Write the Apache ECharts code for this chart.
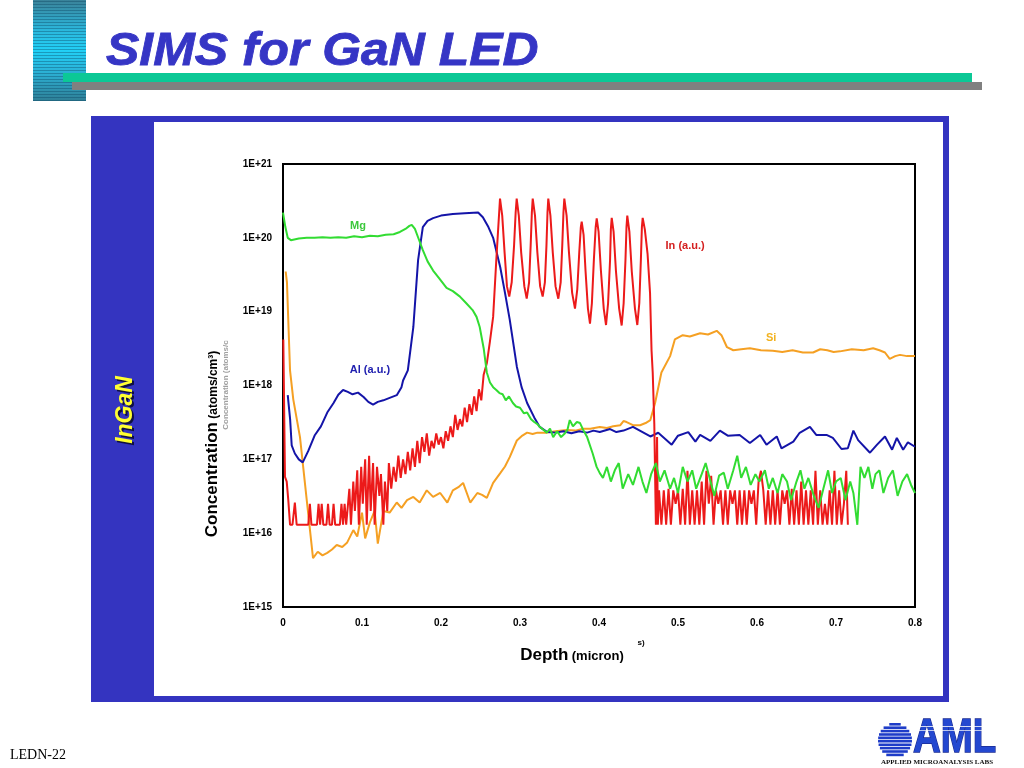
<!DOCTYPE html>
<html>
<head>
<meta charset="utf-8">
<title>SIMS for GaN LED</title>
<script src="https://cdn.jsdelivr.net/npm/echarts@6/dist/echarts.min.js"></script>
<style>
html, body { margin: 0; padding: 0; background: #fff; }
#main { width: 1024px; height: 768px; }
</style>
</head>
<body>
<div id="main"></div>
<script>
// tick labels
var xTickLabels = ['0', '0.1', '0.2', '0.3', '0.4', '0.5', '0.6', '0.7', '0.8'];
var yTickLabels = ['1E+15', '1E+16', '1E+17', '1E+18', '1E+19', '1E+20', '1E+21'];

// Mg (atoms/cm3)
var mgDepth = [0, 0.003, 0.006, 0.010, 0.02, 0.03, 0.04, 0.05, 0.06, 0.07, 0.08, 0.09, 0.10, 0.11, 0.12, 0.13, 0.14, 0.148, 0.155, 0.160,
  0.163, 0.167, 0.172, 0.177, 0.183, 0.19, 0.198, 0.207, 0.215, 0.224, 0.232, 0.24, 0.245, 0.249, 0.254, 0.258, 0.262, 0.266, 0.27, 0.274,
  0.278, 0.282, 0.286, 0.291, 0.295, 0.30, 0.305, 0.309, 0.314, 0.318, 0.322, 0.325, 0.33, 0.334, 0.338, 0.342, 0.347, 0.352, 0.356, 0.36,
  0.363, 0.367, 0.372, 0.376, 0.38, 0.385, 0.392, 0.397, 0.401,
  0.405, 0.41, 0.415, 0.42, 0.425, 0.43, 0.437, 0.443, 0.45, 0.455, 0.46, 0.466, 0.472, 0.477, 0.483, 0.49, 0.495, 0.50, 0.506, 0.512,
  0.518, 0.523, 0.53, 0.535, 0.54, 0.546, 0.552, 0.558, 0.563, 0.57, 0.575, 0.58, 0.586, 0.592, 0.598, 0.603, 0.61, 0.615, 0.62, 0.626,
  0.632, 0.638, 0.643, 0.65, 0.655, 0.66, 0.665, 0.672, 0.678, 0.684, 0.69, 0.695, 0.70, 0.706, 0.712, 0.718, 0.722, 0.727, 0.731, 0.736,
  0.741, 0.746, 0.75, 0.755, 0.76, 0.766, 0.772, 0.778, 0.784, 0.79, 0.795, 0.80];
var mgConc = [2.2e20, 1.4e20, 1.0e20, 9.3e19, 9.8e19, 1.0e20, 1.0e20, 1.02e20, 1.0e20, 1.02e20, 1.0e20, 1.05e20, 1.02e20, 1.07e20, 1.05e20, 1.1e20, 1.12e20, 1.2e20, 1.32e20, 1.45e20,
  1.5e20, 1.32e20, 9.5e19, 6.8e19, 4.8e19, 3.6e19, 2.8e19, 2.1e19, 1.9e19, 1.6e19, 1.3e19, 1.05e19, 8.5e18, 6.2e18, 3.2e18, 1.5e18, 1.1e18, 9.5e17, 8.7e17, 7.9e17,
  7.6e17, 6.3e17, 7.1e17, 5.8e17, 5.2e17, 5.0e17, 4.2e17, 4.3e17, 3.5e17, 3.2e17, 3.0e17, 2.75e17, 2.5e17, 2.3e17, 2.6e17, 2.0e17, 2.4e17, 2.0e17, 2.2e17, 2.5e17,
  3.4e17, 2.8e17, 3.2e17, 3.1e17, 2.5e17, 2.0e17, 1.2e17, 7.9e16, 6.5e16,
  5.6e16, 7.9e16, 5.0e16, 7.1e16, 8.9e16, 4.0e16, 6.3e16, 4.5e16, 7.9e16, 5.0e16, 3.5e16, 6.3e16, 8.9e16, 5.0e16, 7.1e16, 4.0e16, 5.6e16, 3.5e16, 7.9e16, 5.0e16,
  7.1e16, 4.0e16, 6.3e16, 8.9e16, 5.6e16, 3.2e16, 6.0e16, 6.6e16, 4.0e16, 7.1e16, 1.12e17, 5.6e16, 7.9e16, 4.5e16, 6.3e16, 5.0e16, 7.1e16, 4.0e16, 5.6e16, 3.5e16,
  6.3e16, 5.0e16, 2.8e16, 5.0e16, 7.1e16, 4.0e16, 5.6e16, 3.2e16, 2.2e16, 4.0e16, 7.1e16, 3.5e16, 5.0e16, 5.6e16, 2.8e16, 5.0e16, 3.5e16, 1.3e16, 7.9e16, 5.6e16,
  7.9e16, 4.0e16, 6.3e16, 7.1e16, 3.5e16, 5.6e16, 7.1e16, 3.2e16, 5.0e16, 6.3e16, 4.5e16, 3.5e16];

// Al (a.u.)
var alDepth = [0.006, 0.009, 0.011, 0.015, 0.02, 0.025, 0.032, 0.04, 0.048, 0.056, 0.064, 0.07, 0.076, 0.082, 0.088, 0.095, 0.102, 0.108, 0.114, 0.12,
  0.127, 0.135, 0.144, 0.150, 0.152, 0.158, 0.165, 0.171, 0.177, 0.183, 0.19, 0.2, 0.215, 0.23, 0.247, 0.253, 0.26, 0.266, 0.275, 0.281,
  0.287, 0.296, 0.302, 0.309, 0.318, 0.325, 0.334, 0.345, 0.355, 0.365, 0.375, 0.385, 0.393, 0.401, 0.414, 0.422, 0.431, 0.443, 0.465, 0.475,
  0.492, 0.5, 0.513, 0.522, 0.528, 0.541, 0.553, 0.563, 0.578, 0.591, 0.604, 0.612, 0.625, 0.631, 0.646, 0.654, 0.667, 0.675, 0.688, 0.696,
  0.707, 0.715, 0.722, 0.728, 0.743, 0.752, 0.762, 0.771, 0.777, 0.785, 0.791, 0.8];
var alConc = [7.4e17, 3.5e17, 1.55e17, 1.2e17, 1.0e17, 9.1e16, 1.3e17, 2.1e17, 2.8e17, 4.3e17, 5.8e17, 7.5e17, 8.7e17, 8.2e17, 7.6e17, 8.0e17, 7.0e17, 6.0e17, 5.5e17, 6.0e17,
  6.3e17, 6.8e17, 7.4e17, 9.5e17, 1.17e18, 1.6e18, 6.2e18, 5.0e19, 1.4e20, 1.7e20, 1.85e20, 2.0e20, 2.1e20, 2.15e20, 2.2e20, 1.9e20, 1.4e20, 1.0e20, 4.0e19, 1.8e19,
  7.8e18, 1.8e18, 9.5e17, 5.8e17, 3.7e17, 2.75e17, 2.35e17, 2.3e17, 2.4e17, 2.25e17, 2.4e17, 2.3e17, 2.45e17, 2.34e17, 2.57e17, 2.34e17, 2.45e17, 2.75e17, 2.04e17, 2.29e17,
  1.58e17, 2.09e17, 2.34e17, 1.74e17, 2.14e17, 1.78e17, 2.45e17, 2.09e17, 2.14e17, 1.66e17, 2.14e17, 1.58e17, 2.04e17, 1.41e17, 1.74e17, 2.29e17, 2.75e17, 2.14e17, 2.14e17, 1.95e17,
  1.38e17, 1.41e17, 2.45e17, 1.82e17, 1.23e17, 1.58e17, 2.04e17, 1.35e17, 1.95e17, 1.35e17, 1.7e17, 1.48e17];

// In (a.u.)
var inDepth = [0.0004, 0.0025, 0.0047, 0.0067, 0.0089, 0.012, 0.015, 0.0173, 0.032, 0.034, 0.036, 0.043, 0.045, 0.047, 0.049, 0.051, 0.055, 0.057, 0.059, 0.062,
  0.064, 0.066, 0.072, 0.074, 0.076, 0.078, 0.080, 0.084, 0.086, 0.089, 0.091, 0.094, 0.096, 0.099, 0.101, 0.104, 0.106, 0.109, 0.111, 0.114,
  0.116, 0.119, 0.122, 0.124, 0.127, 0.129, 0.132, 0.134, 0.137, 0.140, 0.143, 0.146, 0.149, 0.152, 0.155, 0.158, 0.161, 0.164, 0.167, 0.170,
  0.173, 0.176, 0.179, 0.182, 0.185, 0.188, 0.191, 0.194, 0.197, 0.200, 0.203, 0.206, 0.209, 0.212, 0.215, 0.218, 0.221, 0.224, 0.227, 0.230,
  0.233, 0.236, 0.239, 0.242, 0.245, 0.248, 0.251, 0.254, 0.258, 0.262, 0.266, 0.270, 0.2747,
  0.2775, 0.2805, 0.2835, 0.2864, 0.2895, 0.2925, 0.2945, 0.2958,
  0.2985, 0.3015, 0.3055, 0.3085, 0.3115, 0.3135, 0.3150, 0.3161,
  0.3190, 0.3220, 0.3255, 0.3287, 0.3315, 0.3335, 0.3348, 0.3358,
  0.3385, 0.3415, 0.3450, 0.3485, 0.3515, 0.3535, 0.3550, 0.3561,
  0.3590, 0.3620, 0.3660, 0.3696, 0.3725, 0.3750, 0.3770, 0.3781,
  0.3805, 0.3830, 0.3860, 0.3886, 0.3910, 0.3935, 0.3958, 0.3971,
  0.3995, 0.4025, 0.4060, 0.4089, 0.4115, 0.4140, 0.4150, 0.4161,
  0.4185, 0.4215, 0.4255, 0.4287, 0.4312, 0.4335, 0.4348, 0.4358,
  0.4385, 0.4415, 0.4455, 0.4485, 0.4510, 0.4530, 0.4543, 0.4553,
  0.4580, 0.4615, 0.4646, 0.4665, 0.4680, 0.4700, 0.4720, 0.4735, 0.4745,
  0.476, 0.479, 0.482, 0.485, 0.488, 0.491, 0.494, 0.497, 0.500, 0.503, 0.506, 0.509, 0.512, 0.515, 0.518, 0.521, 0.524, 0.527, 0.530, 0.533,
  0.536, 0.539, 0.542, 0.545, 0.548, 0.551, 0.554, 0.557, 0.560, 0.563, 0.566, 0.569, 0.572, 0.575, 0.578, 0.581, 0.584, 0.587, 0.590, 0.593,
  0.596, 0.599, 0.602, 0.605, 0.608, 0.611, 0.614, 0.617, 0.620, 0.623, 0.626, 0.629, 0.632, 0.635, 0.638, 0.641, 0.644, 0.647, 0.650, 0.653,
  0.656, 0.659, 0.662, 0.665, 0.668, 0.671, 0.674, 0.677, 0.680, 0.683, 0.686, 0.689, 0.692, 0.695, 0.698, 0.701, 0.704, 0.707, 0.710, 0.713, 0.715];
var inConc = [4.2e18, 5.8e16, 5.0e16, 2.8e16, 1.3e16, 1.3e16, 2.6e16, 1.3e16, 1.3e16, 2.5e16, 1.3e16, 1.3e16, 2.5e16, 1.3e16, 2.5e16, 1.3e16, 1.3e16, 2.5e16, 1.3e16, 1.3e16,
  2.5e16, 1.3e16, 1.3e16, 2.5e16, 1.3e16, 2.5e16, 1.3e16, 4.0e16, 1.3e16, 5.0e16, 2.0e16, 7.1e16, 1.3e16, 7.9e16, 2.5e16, 1.0e17, 1.3e16, 1.12e17, 2.0e16, 8.9e16,
  1.3e16, 7.9e16, 3.2e16, 6.3e16, 1.3e16, 5.0e16, 2.0e16, 8.9e16, 4.0e16, 7.9e16, 5.0e16, 1.12e17, 5.6e16, 1.0e17, 6.3e16, 1.26e17, 7.1e16, 1.41e17, 7.9e16, 1.78e17,
  8.9e16, 2.0e17, 1.26e17, 2.24e17, 1.12e17, 1.78e17, 1.41e17, 2.24e17, 1.58e17, 2.0e17, 1.41e17, 2.4e17, 1.78e17, 2.8e17, 2.0e17, 4.0e17, 2.5e17, 3.5e17, 2.8e17, 5.0e17,
  3.2e17, 5.6e17, 4.0e17, 7.1e17, 4.5e17, 8.9e17, 6.3e17, 1.4e18, 2.0e18, 4.0e18, 8.5e18, 5.0e19, 3.4e20,
  2.0e20, 6.3e19, 2.2e19, 1.6e19, 2.5e19, 7.9e19, 2.2e20, 3.4e20,
  2.0e20, 6.3e19, 2.2e19, 1.5e19, 2.5e19, 7.9e19, 2.2e20, 3.4e20,
  2.0e20, 6.3e19, 2.2e19, 1.6e19, 2.5e19, 7.9e19, 2.2e20, 3.4e20,
  2.0e20, 6.3e19, 2.2e19, 1.5e19, 2.5e19, 7.9e19, 2.2e20, 3.4e20,
  2.0e20, 6.3e19, 1.8e19, 1.1e19, 2.0e19, 6.3e19, 1.4e20, 1.66e20,
  1.1e20, 3.5e19, 1.1e19, 6.9e18, 1.3e19, 5.0e19, 1.4e20, 1.84e20,
  1.2e20, 3.5e19, 1.1e19, 6.6e18, 1.3e19, 5.0e19, 1.3e20, 1.86e20,
  1.2e20, 3.5e19, 1.1e19, 6.5e18, 1.3e19, 5.0e19, 1.4e20, 2.0e20,
  1.2e20, 3.5e19, 1.1e19, 6.6e18, 1.3e19, 5.0e19, 1.4e20, 1.86e20,
  1.3e20, 6.0e19, 1.8e19, 3.0e18, 1.5e18, 3.0e17, 1.3e16, 2.0e17, 1.3e16,
  3.8e16, 1.3e16, 3.8e16, 1.3e16, 4.0e16, 1.3e16, 3.8e16, 2.5e16, 3.8e16, 1.3e16, 4.0e16, 1.3e16, 7.0e16, 1.3e16, 3.8e16, 1.3e16, 3.8e16, 1.3e16, 5.0e16, 1.3e16,
  7.0e16, 2.5e16, 6.0e16, 1.3e16, 3.8e16, 2.5e16, 3.8e16, 1.3e16, 3.8e16, 1.3e16, 3.8e16, 2.5e16, 3.8e16, 1.3e16, 3.8e16, 1.3e16, 3.8e16, 1.3e16, 3.8e16, 2.5e16,
  3.8e16, 1.3e16, 5.0e16, 7.0e16, 3.8e16, 1.3e16, 3.8e16, 1.3e16, 3.8e16, 1.3e16, 3.8e16, 1.3e16, 3.8e16, 2.5e16, 3.8e16, 1.3e16, 4.0e16, 1.3e16, 3.8e16, 1.3e16,
  5.0e16, 1.3e16, 3.8e16, 1.3e16, 3.8e16, 1.3e16, 7.0e16, 1.3e16, 3.8e16, 1.3e16, 2.5e16, 1.3e16, 3.8e16, 1.3e16, 7.0e16, 1.3e16, 3.8e16, 1.3e16, 2.5e16, 7.0e16, 1.3e16];

// Si (atoms/cm3)
var siDepth = [0.0034, 0.005, 0.0089, 0.013, 0.0215, 0.0304, 0.038, 0.044, 0.050, 0.056, 0.062, 0.068, 0.075, 0.081, 0.089, 0.094, 0.1, 0.104, 0.110, 0.116,
  0.12, 0.127, 0.135, 0.144, 0.150, 0.157, 0.165, 0.173, 0.182, 0.19, 0.199, 0.208, 0.215, 0.222, 0.228, 0.237, 0.246, 0.252, 0.258, 0.266,
  0.275, 0.281, 0.287, 0.296, 0.303, 0.309, 0.316, 0.322, 0.334, 0.345, 0.359, 0.37, 0.38, 0.389, 0.401, 0.41, 0.418, 0.427, 0.431, 0.435,
  0.443, 0.452, 0.459, 0.465, 0.471, 0.479, 0.49, 0.496, 0.506, 0.515, 0.528, 0.538, 0.549, 0.555, 0.562, 0.57, 0.58, 0.591, 0.605, 0.62,
  0.632, 0.645, 0.658, 0.671, 0.68, 0.689, 0.697, 0.705, 0.72, 0.735, 0.747, 0.755, 0.762, 0.768, 0.775, 0.781, 0.79, 0.8];
var siConc = [3.5e19, 2.5e19, 1.6e18, 6.5e17, 2.0e17, 2.6e16, 4.6e15, 5.6e15, 5.0e15, 5.4e15, 6.0e15, 6.9e15, 6.5e15, 7.4e15, 1.1e16, 9.0e15, 1.9e16, 8.5e15, 1.4e16, 2.0e16,
  7.2e15, 2.0e16, 1.9e16, 2.6e16, 2.2e16, 2.8e16, 3.1e16, 2.6e16, 3.8e16, 3.1e16, 3.5e16, 2.6e16, 3.8e16, 4.2e16, 4.8e16, 2.6e16, 3.5e16, 3.3e16, 3.0e16, 4.8e16,
  6.5e16, 8.0e16, 1.07e17, 1.8e17, 2.1e17, 2.3e17, 2.2e17, 2.3e17, 2.3e17, 2.4e17, 2.5e17, 2.45e17, 2.6e17, 2.6e17, 2.75e17, 2.65e17, 2.8e17, 2.9e17, 3.3e17, 3.2e17,
  2.9e17, 2.9e17, 3.1e17, 3.4e17, 5.8e17, 1.5e18, 2.5e18, 4.2e18, 4.8e18, 4.6e18, 5.1e18, 4.9e18, 5.5e18, 4.8e18, 3.3e18, 3.0e18, 3.1e18, 3.2e18, 3.0e18, 2.95e18,
  2.85e18, 3.0e18, 2.8e18, 2.8e18, 3.1e18, 3.0e18, 2.85e18, 2.9e18, 3.1e18, 3.0e18, 3.2e18, 3.0e18, 2.8e18, 2.3e18, 2.5e18, 2.6e18, 2.5e18, 2.5e18];

var seriesNames = ['Si', 'Al (a.u.)', 'In (a.u.)', 'Mg'];
var seriesColors = ['#f5a023', '#1414a8', '#ec1a1a', '#32dc32'];
var labelColors = { 'Mg': '#3cc83c', 'In (a.u.)': '#d42020', 'Si': '#f2b21e', 'Al (a.u.)': '#2020b0' };
// where each curve name is written, in data units
var labelAnchors = [
  { text: 'Mg', at: [0.095, 1.45e20] },
  { text: 'In (a.u.)', at: [0.509, 7.8e19] },
  { text: 'Si', at: [0.618, 4.4e18] },
  { text: 'Al (a.u.)', at: [0.110, 1.6e18] }
];

function pairs(xs, ys) {
  return xs.map(function (x, i) { return [x, ys[i]]; });
}

var chart = echarts.init(document.getElementById('main'), null, { renderer: 'canvas' });
var FONT = '"Liberation Sans", Arial, sans-serif';

var seriesData = [pairs(siDepth, siConc), pairs(alDepth, alConc), pairs(inDepth, inConc), pairs(mgDepth, mgConc)];

chart.setOption({
  animation: false,
  backgroundColor: '#fff',
  grid: { left: 283, right: 109, top: 164, bottom: 161, show: true, borderColor: '#000', borderWidth: 2, backgroundColor: '#fff', z: 3 },
  xAxis: {
    type: 'value', min: 0, max: 0.8, interval: 0.1,
    axisLine: { show: true, lineStyle: { color: '#000', width: 2 } },
    axisTick: { show: true, inside: true, length: 5, lineStyle: { color: '#000' } },
    minorTick: { show: true, splitNumber: 4, length: 3, lineStyle: { color: '#000' } },
    splitLine: { show: false },
    axisLabel: {
      margin: 11, color: '#000', fontWeight: 'bold', fontSize: 10, fontFamily: FONT,
      formatter: function (v) { return xTickLabels[Math.round(v * 10)]; }
    }
  },
  yAxis: {
    type: 'log', logBase: 10, min: 1e15, max: 1e21, splitNumber: 6,
    axisLine: { show: true, lineStyle: { color: '#000', width: 2 } },
    axisTick: { show: true, inside: true, length: 5, lineStyle: { color: '#000' } },
    minorTick: { show: true, splitNumber: 9, length: 3, lineStyle: { color: '#000' } },
    splitLine: { show: false },
    axisLabel: {
      margin: 11, color: '#000', fontWeight: 'bold', fontSize: 10, fontFamily: FONT,
      formatter: function (v) { return yTickLabels[Math.round(Math.log10(v)) - 15]; }
    }
  },
  series: seriesNames.map(function (name, i) {
    return {
      name: name, type: 'line', data: seriesData[i], showSymbol: false, symbol: 'none',
      lineStyle: { color: seriesColors[i], width: 2 }, z: 4
    };
  })
});

// slide decoration and annotations
var g = [];
// striped block top-left
g.push({ type: 'rect', shape: { x: 33, y: 0, width: 53, height: 101 },
  style: { fill: new echarts.graphic.LinearGradient(0, 0, 0, 1, [
    { offset: 0, color: '#3a8299' }, { offset: 0.3, color: '#2bb7dc' }, { offset: 0.5, color: '#22d0f6' },
    { offset: 0.7, color: '#2bb3d8' }, { offset: 1, color: '#2f7f96' }]) } });
for (var sy = 1; sy < 101; sy += 3) {
  g.push({ type: 'rect', shape: { x: 33, y: sy, width: 53, height: 1 }, style: { fill: 'rgba(10,60,90,0.35)' } });
}
// title bars
g.push({ type: 'rect', shape: { x: 72, y: 82, width: 910, height: 8 }, style: { fill: '#808080' } });
g.push({ type: 'rect', shape: { x: 63, y: 73, width: 909, height: 9 }, style: { fill: '#0cc896' } });
// title
g.push({ type: 'text', x: 106, y: 52, scaleX: 1.085,
  style: { text: 'SIMS for GaN LED', font: 'italic bold 46px ' + FONT, fill: '#3535c5', align: 'left', verticalAlign: 'middle',
    stroke: '#3535c5', lineWidth: 0.8 } });
// blue frame
g.push({ type: 'rect', shape: { x: 91, y: 116, width: 858, height: 586 }, style: { fill: '#3434c0' }, z: 0 });
g.push({ type: 'rect', shape: { x: 154, y: 122, width: 789, height: 574 }, style: { fill: '#fff' }, z: 0 });
// InGaN side label (dark copy underneath as its shadow)
g.push({ type: 'text', x: 128, y: 412, rotation: Math.PI / 2,
  style: { text: 'InGaN', font: 'italic bold 23px ' + FONT, fill: '#101040', align: 'center', verticalAlign: 'middle' } });
g.push({ type: 'text', x: 126, y: 410, rotation: Math.PI / 2,
  style: { text: 'InGaN', font: 'italic bold 23px ' + FONT, fill: '#ffff30', align: 'center', verticalAlign: 'middle' } });
// axis titles
g.push({ type: 'text', x: 212, y: 444, rotation: Math.PI / 2, z: 10,
  style: { text: '{a|Concentration} {b|(atoms/cm³)}', align: 'center', verticalAlign: 'middle',
    rich: { a: { font: 'bold 17px ' + FONT, fill: '#000', verticalAlign: 'bottom' },
            b: { font: 'bold 12px ' + FONT, fill: '#000', verticalAlign: 'bottom', padding: [0, 0, 1, 0] } } } });
g.push({ type: 'text', x: 226, y: 385, rotation: Math.PI / 2, z: 10,
  style: { text: 'Concentration (atoms/c', font: 'bold 8px ' + FONT, fill: '#a0a0a0', align: 'center', verticalAlign: 'middle' } });
g.push({ type: 'text', x: 572, y: 655, z: 10,
  style: { text: '{a|Depth} {b|(micron)}', align: 'center', verticalAlign: 'middle',
    rich: { a: { font: 'bold 17px ' + FONT, fill: '#000', verticalAlign: 'bottom' },
            b: { font: 'bold 13px ' + FONT, fill: '#000', verticalAlign: 'bottom', padding: [0, 0, 1, 0] } } } });
g.push({ type: 'text', x: 641, y: 643, z: 10, style: { text: 's)', font: 'bold 8px ' + FONT, fill: '#000', align: 'center', verticalAlign: 'middle' } });
// curve names
labelAnchors.forEach(function (l) {
  var p = chart.convertToPixel({ gridIndex: 0 }, l.at);
  g.push({ type: 'text', x: p[0], y: p[1], z: 10,
    style: { text: l.text, font: 'bold 11px ' + FONT, fill: labelColors[l.text], align: 'center', verticalAlign: 'middle' } });
});
// footer
g.push({ type: 'text', x: 10, y: 755, style: { text: 'LEDN-22', font: '14px "Liberation Serif", "Times New Roman", serif', fill: '#000', align: 'left', verticalAlign: 'middle' } });
// AML logo
var gx = 895, gy = 740, gr = 17;
for (var dy = -gr + 1; dy < gr; dy += 3.4) {
  var hw = Math.sqrt(gr * gr - dy * dy);
  g.push({ type: 'rect', shape: { x: gx - hw, y: gy + dy - 1, width: 2 * hw, height: 2.6 }, style: { fill: '#1e3cc8' } });
}
g.push({ type: 'text', x: 913, y: 739, scaleX: 0.8,
  style: { text: 'AML', font: '900 48px ' + FONT, fill: '#2448d0', align: 'left', verticalAlign: 'middle', stroke: '#1a2a90', lineWidth: 1.5 } });
g.push({ type: 'rect', shape: { x: 913, y: 726, width: 84, height: 1 }, style: { fill: 'rgba(255,255,255,0.8)' }, z: 5 });
g.push({ type: 'rect', shape: { x: 913, y: 730, width: 84, height: 1 }, style: { fill: 'rgba(255,255,255,0.7)' }, z: 5 });
g.push({ type: 'text', x: 937, y: 762,
  style: { text: 'APPLIED MICROANALYSIS LABS', font: 'bold 7px "Liberation Serif", serif', fill: '#111', align: 'center', verticalAlign: 'middle' } });

chart.setOption({ graphic: g });
</script>
</body>
</html>
